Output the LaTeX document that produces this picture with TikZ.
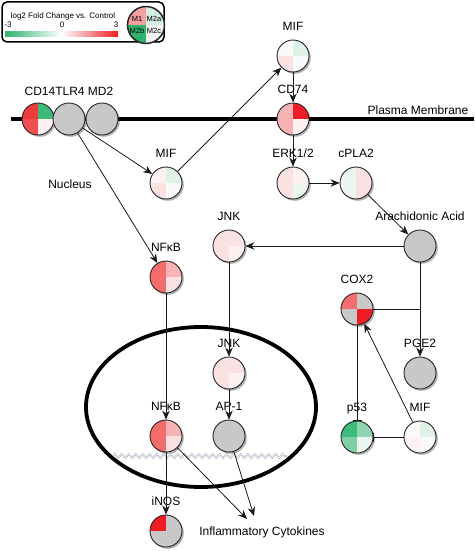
\documentclass[tikz,border=0pt]{standalone}
\usepackage{fontspec}
\setmainfont{Liberation Sans}
\usetikzlibrary{arrows.meta,shadows,decorations.pathmorphing}
\definecolor{R}{HTML}{EE1C24}
\definecolor{Ra}{HTML}{EF3B3B}
\definecolor{Rb}{HTML}{F25050}
\definecolor{R2}{HTML}{F46D6D}
\definecolor{Pk}{HTML}{F8B4B4}
\definecolor{Pf}{HTML}{FBE2E2}
\definecolor{Pff}{HTML}{FDF1F1}
\definecolor{W}{HTML}{FAFAFA}
\definecolor{Gf}{HTML}{DFF2E7}
\definecolor{Gff}{HTML}{EAF6EF}
\definecolor{Gm}{HTML}{8FD6B0}
\definecolor{Gl}{HTML}{7FCFA5}
\definecolor{G}{HTML}{3DBB7A}
\definecolor{Gy}{HTML}{C8C8C8}
\definecolor{LM1}{HTML}{F4A0A0}
\definecolor{LM2a}{HTML}{D2EFDF}
\definecolor{LM2b}{HTML}{2DB36B}
\definecolor{LM2c}{HTML}{F2F2F2}
\definecolor{wavec}{HTML}{9AAABB}
\begin{document}
\begin{tikzpicture}[x=1pt,y=-1pt,
  qf/.style n args={4}{circle, minimum size=32pt, inner sep=0pt, draw=black!85, line width=0.9pt,
    path picture={
      \fill[#1] (path picture bounding box.center) rectangle (path picture bounding box.north west);
      \fill[#2] (path picture bounding box.center) rectangle (path picture bounding box.north east);
      \fill[#3] (path picture bounding box.center) rectangle (path picture bounding box.south west);
      \fill[#4] (path picture bounding box.center) rectangle (path picture bounding box.south east);}},
  qc/.style n args={4}{qf={#1}{#2}{#3}{#4}, drop shadow={shadow xshift=1.8pt, shadow yshift=-1.8pt, opacity=0.3, fill=black}},
  lbl/.style={font=\fontsize{12}{14}\selectfont, inner sep=0pt},
  nl/.style={label={[lbl, anchor=base, label distance=9pt]90:#1}},
  small/.style={font=\fontsize{8}{9}\selectfont, inner sep=0pt},
  tiny/.style={font=\fontsize{7.5}{9}\selectfont, inner sep=0pt},
  ln/.style={draw=black!90, line width=0.8pt},
  conn/.style={ln, -{Stealth[length=9pt,width=7.5pt]}},
  inhib/.style={ln, -{Bar[width=9pt]}}
]
\useasboundingbox (0,0) rectangle (474,551);

% legend
\draw[line width=1.5pt, rounded corners=5pt] (2,2) rectangle (164,42);
\node[small] (lt) at (63,16) {log2 Fold Change vs. Control};
\node[small] (lm3) at (8,25) {-3};
\node[small] (l0) at (62,25) {0};
\node[small] (l3) at (116,25) {3};
\shade[left color=LM2b, right color=R, middle color=white] (5,32) rectangle (118,37);
\node[qf={LM1}{LM2a}{LM2b}{LM2c}, minimum size=37pt, line width=1.5pt] (leg) at (146,25) {};
\node[tiny] (lg1) at (137,19) {M1};
\node[tiny] (lg2) at (154,19) {M2a};
\node[tiny] (lg3) at (137,31) {M2b};
\node[tiny] (lg4) at (154,31) {M2c};

% membrane
\coordinate (m1) at (11,119);
\coordinate (m2) at (474,119);
\draw[line width=3.5pt] (m1) -- (m2);
\node[lbl, anchor=base] (pm) at (418,114) {Plasma Membrane};

% nucleus
\draw[line width=3.8pt] (201,407) ellipse [x radius=115, y radius=80];
\coordinate (w1) at (113,456);
\coordinate (w2) at (287,456);
\draw[wavec, line width=0.5pt, double=white, double distance=0.6pt, decorate, decoration={zigzag, amplitude=2pt, segment length=7pt}] (w1) -- (w2);
\node[lbl, anchor=base] (nuc) at (70,188) {Nucleus};

% nodes
\node[lbl, anchor=base] (cdl) at (69,95) {CD14TLR4 MD2};
\node[qc={Ra}{G}{Rb}{Pff}] (cd14) at (38,119) {};
\node[qc={Gy}{Gy}{Gy}{Gy}] (tlr4) at (69,119) {};
\node[qc={Gy}{Gy}{Gy}{Gy}] (md2) at (102,119) {};
\node[qc={W}{Gf}{Pf}{W}, nl=MIF] (miftop) at (293,56) {};
\node[qc={Pk}{R}{Pk}{Pff}, nl=CD74] (cd74) at (293,119) {};
\node[qc={Pff}{Gf}{Pf}{W}, nl=MIF] (mifm) at (166,183) {};
\node[qc={Pf}{Pff}{Pf}{Gff}, nl=ERK1/2] (erk) at (293,183) {};
\node[qc={Gff}{Pf}{Gff}{Pf}, nl=cPLA2] (cpla2) at (356,183) {};
\node[qc={Gy}{Gy}{Gy}{Gy}, nl=Arachidonic Acid] (aa) at (420,246) {};
\node[qc={Pf}{Pf}{Pf}{Pff}, nl=JNK] (jnk1) at (229,246) {};
\node[qc={R2}{Gy}{Gy}{R}, nl=COX2] (cox2) at (357,309) {};
\node[qc={Gy}{Gy}{Gy}{Gy}, nl=PGE2] (pge2) at (420,373) {};
\node[qc={Pf}{Pf}{Pf}{Pff}, nl=JNK] (jnk2) at (229,373) {};
\node[qc={Gy}{Gy}{Gy}{Gy}, nl=AP-1] (ap1) at (229,436) {};
\node[qc={R2}{Pk}{R2}{Pf}, nl=NFκB] (nfkb1) at (166,277) {};
\node[qc={R2}{Pk}{R2}{Pf}, nl=NFκB] (nfkb2) at (166,436) {};
\node[qc={R}{Gy}{Gy}{Gy}, nl=iNOS] (inos) at (166,531) {};
\node[qc={G}{Gm}{Gl}{Gff}, nl=p53] (p53) at (357,437) {};
\node[qc={W}{Gf}{Pff}{W}, nl=MIF] (mif3) at (420,437) {};
\node[lbl] (cyt) at (262,532) {Inflammatory Cytokines};
\coordinate (c1) at (247,519);
\coordinate (c2) at (254,516);
\coordinate (jx) at (aa |- cox2);

% connectors
\draw[conn] (tlr4) -- (mifm);
\draw[conn] (tlr4) -- (nfkb1);
\draw[conn] (mifm) -- (miftop);
\draw[conn] (miftop) -- (cd74);
\draw[conn] (cd74) -- (erk);
\draw[conn] (erk) -- (cpla2);
\draw[conn] (cpla2) -- (aa);
\draw[conn] (aa) -- (jnk1);
\draw[conn] (aa) -- (pge2);
\draw[ln] (cox2) -- (jx);
\draw[conn] (jnk1) -- (jnk2);
\draw[conn] (jnk2) -- (ap1);
\draw[conn] (nfkb1) -- (nfkb2);
\draw[conn] (nfkb2) -- (inos);
\draw[conn] (nfkb2) -- (c1);
\draw[conn] (ap1) -- (c2);
\draw[inhib] (cox2) -- (p53);
\draw[inhib] (mif3) -- (p53);
\draw[conn] (mif3) -- (cox2);
\end{tikzpicture}
\end{document}
